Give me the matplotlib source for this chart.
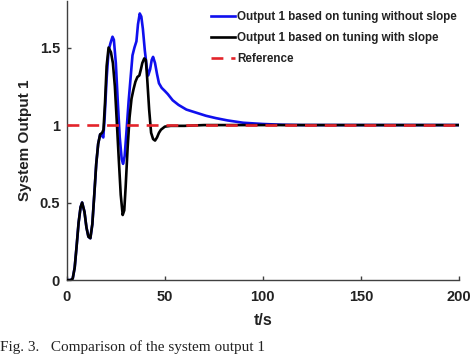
import matplotlib
matplotlib.use("Agg")
import matplotlib.pyplot as plt

# Data
t_black = [0, 2, 3, 4, 5, 6, 7, 7.8, 9, 10, 11, 12, 13, 14, 15, 16, 17, 18, 18.7,
           19.5, 20.3, 21.3, 22.5, 23.5, 24.5, 25.5, 26.5, 27.5, 28.5, 29.3, 30,
           31, 32, 33, 34, 35, 36, 37, 37.8, 38.5, 39.5, 40.3, 41, 42, 43, 44, 45,
           46, 47, 48, 50, 53, 60, 70, 200]
y_black = [0, 0, 0.01, 0.08, 0.22, 0.37, 0.47, 0.50, 0.44, 0.34, 0.28, 0.27, 0.36,
           0.55, 0.75, 0.88, 0.94, 0.95, 0.97, 1.15, 1.38, 1.50, 1.47, 1.40, 1.25,
           1.02, 0.78, 0.55, 0.42, 0.45, 0.60, 0.85, 1.05, 1.17, 1.23, 1.28, 1.31,
           1.32, 1.36, 1.40, 1.43, 1.42, 1.30, 1.10, 0.95, 0.91, 0.90, 0.92, 0.95,
           0.97, 0.99, 0.995, 0.995, 1.0, 1.0]

t_blue = [0, 2, 3, 4, 5, 6, 7, 7.8, 9, 10, 11, 12, 13, 14, 15, 16, 17, 18, 18.6,
          19.3, 20.3, 21.3, 22.3, 23.3, 24, 25, 26, 27, 28, 28.7, 29.5, 30.5, 31.5,
          32.5, 33.5, 34.5, 35.5, 36.3, 37.2, 38, 38.8, 39.8, 40.8, 41.5, 42.5,
          43.3, 44, 45, 46, 47, 48.4, 50, 51.5, 54, 57, 61, 66, 71, 76, 82, 90,
          100, 110, 120, 200]
y_blue = [0, 0, 0.01, 0.08, 0.22, 0.37, 0.47, 0.50, 0.44, 0.34, 0.28, 0.27, 0.36,
          0.55, 0.75, 0.88, 0.94, 0.93, 0.92, 1.05, 1.30, 1.48, 1.53, 1.57, 1.55,
          1.40, 1.15, 0.92, 0.78, 0.75, 0.80, 0.97, 1.15, 1.30, 1.45, 1.50, 1.54,
          1.65, 1.72, 1.70, 1.62, 1.48, 1.37, 1.32, 1.36, 1.42, 1.44, 1.40, 1.33,
          1.27, 1.24, 1.22, 1.20, 1.16, 1.13, 1.10, 1.08, 1.06, 1.045, 1.03, 1.015,
          1.007, 1.002, 1.0, 1.0]

t_ref = [0, 200]
y_ref = [1, 1]

labels = ["Output 1 based on tuning without slope",
          "Output 1 based on tuning with slope",
          "Reference"]
xticks = [0, 50, 100, 150, 200]
yticks = [0, 0.5, 1, 1.5]
ytick_labels = ["0", "0.5", "1", "1.5"]

plt.rcParams['font.family'] = ['Liberation Sans', 'DejaVu Sans']

fig = plt.figure(figsize=(4.74, 3.55), dpi=100)
ax = fig.add_axes([0.141, 0.211, 0.827, 0.786])

ax.plot(t_blue, y_blue, color='#1010ee', lw=1.9, label=labels[0], zorder=2)
ax.plot(t_black, y_black, color='black', lw=1.9, label=labels[1], zorder=3)
ax.plot(t_ref, y_ref, color='#e3242b', lw=1.9, dashes=(4.5, 3), label=labels[2], zorder=4)

ax.set_xlim(0, 200)
ax.set_ylim(0, 1.8)
ax.set_xticks(xticks)
ax.set_yticks(yticks)
ax.set_yticklabels(ytick_labels)
for s in ['top', 'right']:
    ax.spines[s].set_visible(False)
for s in ['left', 'bottom']:
    ax.spines[s].set_color('#404040')
    ax.spines[s].set_linewidth(1.0)
ax.tick_params(direction='in', length=3, width=1, color='#404040',
               labelsize=10.5)
ax.tick_params(axis='x', pad=7)
ax.tick_params(axis='y', pad=5)
for lab in ax.get_xticklabels() + ax.get_yticklabels():
    lab.set_fontweight('bold')
    lab.set_color('#222222')

ax.set_xlabel("t/s", fontsize=11.5, fontweight='bold', color='#222222')
ax.xaxis.set_label_coords(0.5, -0.118)
ax.set_ylabel("System Output 1", fontsize=11, fontweight='bold', color='#222222')
ax.yaxis.set_label_coords(-0.088, 0.5)

leg = ax.legend(loc='upper right', bbox_to_anchor=(1.015, 0.993), frameon=False,
                prop={'weight': 'bold', 'size': 8.4}, handlelength=2.1,
                handletextpad=0.2, labelspacing=0.8, borderaxespad=0.25)
for txt in leg.get_texts():
    txt.set_color('#222222')

fig.text(0.0, 1 - 351.5 / 355, "Fig. 3.   Comparison of the system output 1",
         family=['Liberation Serif', 'DejaVu Serif'], fontsize=11,
         va='baseline', ha='left', color='#222222')

fig.savefig("out.png", dpi=100)
